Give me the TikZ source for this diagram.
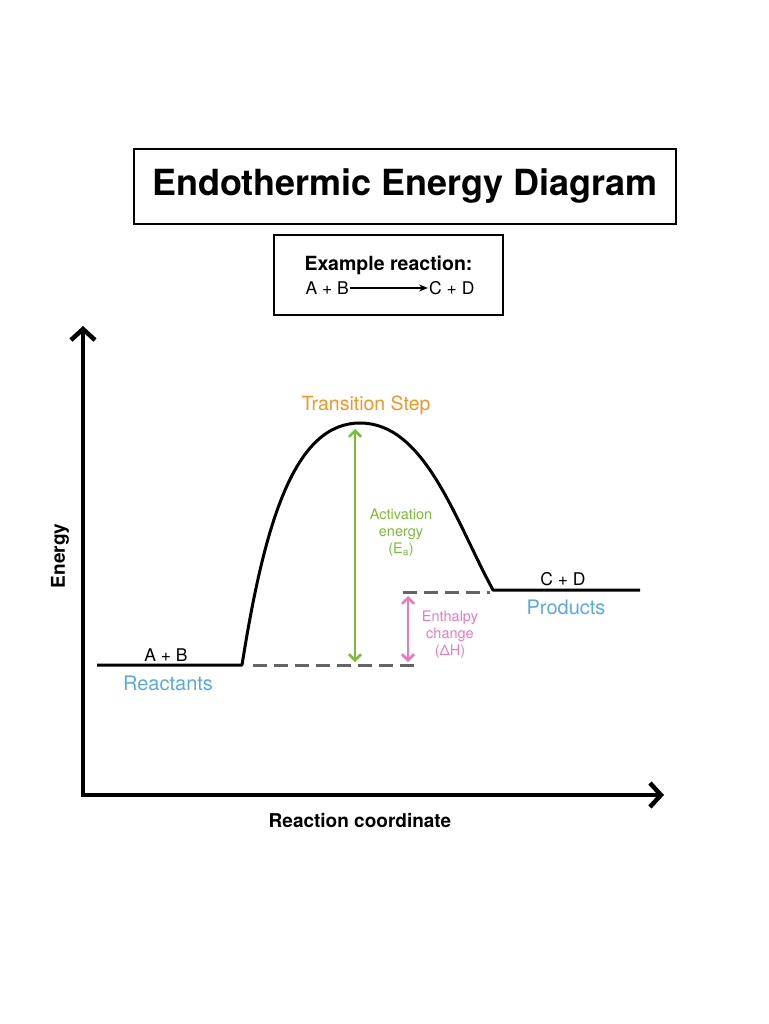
\documentclass[tikz,border=0pt]{standalone}
\usepackage{fontspec}
\setmainfont{TeX Gyre Heros}
\usetikzlibrary{arrows.meta}
\definecolor{grn}{RGB}{122,190,50}
\definecolor{pnk}{RGB}{236,120,190}
\definecolor{org}{RGB}{240,150,40}
\definecolor{blu}{RGB}{90,170,225}
\definecolor{dgray}{RGB}{100,100,100}
\tikzset{
 box/.style={draw,line width=2.5pt},
 axis/.style={line width=4.5pt,-{Straight Barb[length=11pt,width=24pt,line width=4.5pt]}},
 curve/.style={line width=3pt},
 dash line/.style={dgray,line width=3pt,dash pattern=on 14pt off 7pt},
 lbl/.style={font=\fontsize{17.5}{20}\selectfont},
 small/.style={font=\fontsize{14.5}{17}\selectfont,align=center},
}
\begin{document}
\begin{tikzpicture}[x=1pt,y=-1pt]
\useasboundingbox (0,0) rectangle (768,1024);
\node[box,minimum width=542pt,minimum height=75pt,font=\fontsize{36}{40}\selectfont\bfseries] (title) at (405,186.5) {Endothermic Energy Diagram};
\node[box,minimum width=229pt,minimum height=80pt] (ex) at (388.5,275) {};
\node[font=\fontsize{19.5}{22}\selectfont\bfseries] (exh) at (388.5,265) {Example reaction:};
\node[lbl,anchor=east,inner sep=1pt] (ab0) at (350,288) {A + B};
\node[lbl,anchor=west,inner sep=1pt] (cd0) at (428,288) {C + D};
\draw[line width=1.6pt,-{Stealth[length=9pt,width=7pt]}] (ab0.east) -- (cd0.west);
\coordinate (O) at (83,795);
\coordinate (ytop) at (83,326);
\coordinate (xend) at (664,795);
\draw[axis] (O) -- (ytop);
\draw[axis] ([xshift=-2pt]O) -- (xend);
\node[rotate=90,font=\fontsize{19}{22}\selectfont\bfseries] (en) at (60,556) {Energy};
\node[font=\fontsize{19}{22}\selectfont\bfseries] (rc) at (360,820) {Reaction coordinate};
\coordinate (r0) at (97,665);
\coordinate (r1) at (242,665);
\coordinate (pk) at (360,423);
\coordinate (p0) at (493,590);
\coordinate (p1) at (640,590);
\draw[curve,line join=round] (r0) -- (r1) .. controls (265,520) and (295,423) .. (pk) .. controls (425,423) and (455,520) .. (p0) -- (p1);
\coordinate (d0) at (253,665);
\coordinate (d1) at (415,665);
\coordinate (d2) at (403,592);
\coordinate (d3) at (490,592);
\draw[dash line] (d0) -- (d1);
\draw[dash line] (d2) -- (d3);
\coordinate (ga) at (355,429);
\coordinate (gb) at (355,662);
\draw[grn,line width=2.5pt,{Straight Barb[length=6pt,width=12pt]}-{Straight Barb[length=6pt,width=12pt]}] (ga) -- (gb);
\node[small,text=grn] (act) at (401,533) {Activation\\energy\\(E\textsubscript{a})};
\coordinate (pa) at (408,596);
\coordinate (pb) at (408,662);
\draw[pnk,line width=2.5pt,{Straight Barb[length=6pt,width=12pt]}-{Straight Barb[length=6pt,width=12pt]}] (pa) -- (pb);
\node[small,text=pnk] (ent) at (450,635) {Enthalpy\\change\\(ΔH)};
\node[lbl] (ab) at (166,655) {A + B};
\node[lbl,text=blu,font=\fontsize{20}{23}\selectfont] (rea) at (168,683) {Reactants};
\node[lbl] (cd) at (563,579) {C + D};
\node[lbl,text=blu,font=\fontsize{20}{23}\selectfont] (pro) at (566,607) {Products};
\node[lbl,text=org,font=\fontsize{19.5}{22}\selectfont] (ts) at (366,405) {Transition Step};
\end{tikzpicture}
\end{document}
